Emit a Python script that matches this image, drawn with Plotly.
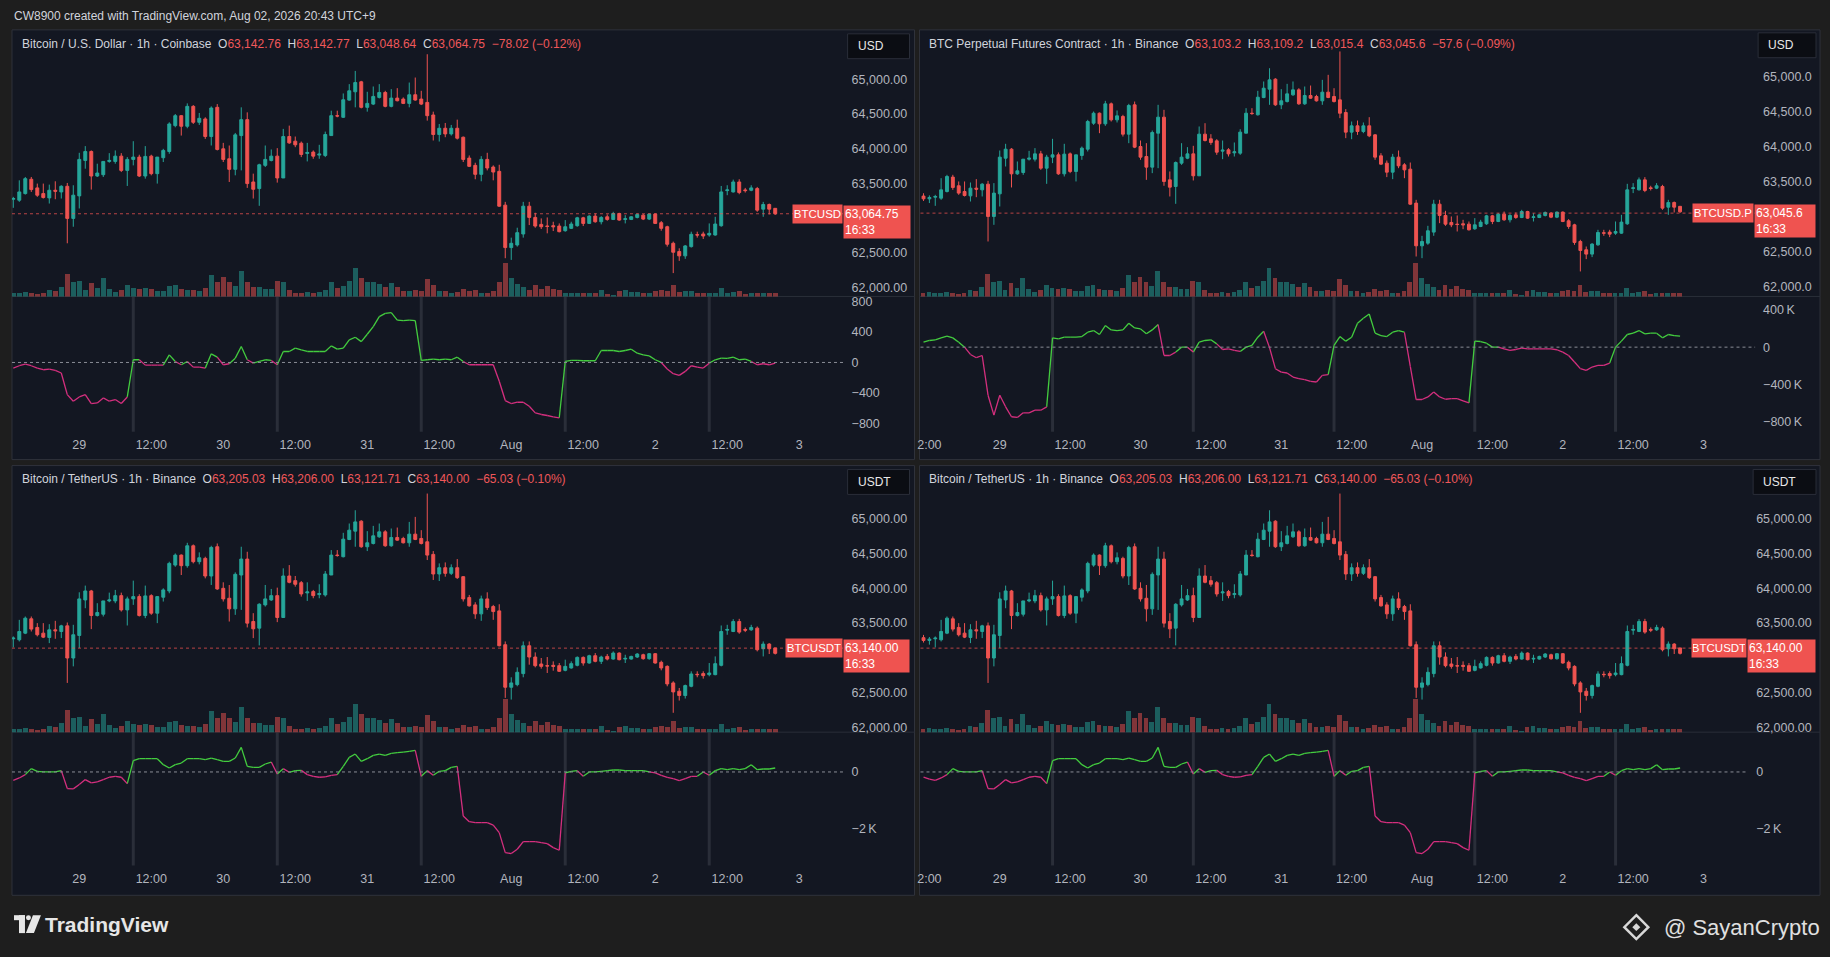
import pandas as pd
import plotly.graph_objects as go

W, H = 1830, 957

# --- Time axis: hourly candles, Jul 28 11:00 -> Aug 2 20:00 (UTC+9) ---
times = pd.date_range("2026-07-28 11:00", periods=130, freq="h")
session_starts = pd.date_range("2026-07-29 09:00", periods=5, freq="D")
time_ticks = pd.date_range("2026-07-28 12:00", periods=12, freq="12h")
time_tick_labels = ["2:00", "29", "12:00", "30", "12:00", "31", "12:00", "Aug", "12:00", "2", "12:00", "3"]

# --- Price candles (same shape on all four symbols) ---
opens = [
    63290, 63250,
    63274, 63260, 63355, 63561, 63437, 63355, 63293, 63403, 63379, 63460,
    62998, 63322, 63832, 63961, 63608, 63627, 63818, 63818, 63894, 63689,
    63847, 63880, 63608, 63894, 63642, 63871, 63961, 64333, 64476, 64324,
    64610, 64381, 64429, 64176, 64596, 63999, 63856, 63704, 64190, 64419,
    63522, 63427, 63761, 63832, 63894, 63580, 64176, 64109, 64080, 63933,
    63952, 63909, 63904, 64190, 64476, 64453, 64700, 64820, 64963, 64596,
    64643, 64739, 64810, 64610, 64729, 64715,
    64653, 64777, 64715, 64667, 64486, 64205, 64295, 64214, 64295, 64166,
    63866, 63761, 63632, 63847, 63737, 63675, 63189, 62578, 62616, 62774,
    63174, 63012, 62912, 62888, 62893, 62888, 62821, 62855, 62893, 63007,
    62926, 63031, 62950, 63021, 62983, 63069, 62983, 62983, 63012, 63045,
    62988, 63060, 62936, 62878, 62640, 62521, 62459, 62592, 62764, 62774,
    62759, 62759, 62893, 63398, 63379, 63522, 63408, 63403, 63427, 63131,
    63198, 63142.76,
]
highs = [
    63330, 63300,
    63308, 63546, 63594, 63594, 63499, 63499, 63484, 63532, 63475, 63508,
    63475, 63942, 64038, 63976, 63785, 63818, 63937, 63976, 63937, 63880,
    64109, 63914, 64038, 63914, 63880, 63999, 64381, 64500, 64486, 64653,
    64629, 64515, 64453, 64610, 64643, 64085, 64047, 64228, 64596, 64524,
    63642, 63785, 64047, 63990, 64009, 64286, 64333, 64176, 64104, 64085,
    63976, 64057, 64247, 64548, 64548, 64796, 64930, 65120, 64977, 64820,
    64896, 64930, 64834, 64858, 64872, 64739,
    64953, 65025, 64834, 65360, 64534, 64357, 64371, 64343, 64419, 64176,
    63904, 63799, 63894, 63942, 63761, 63770, 63236, 62721, 62864, 63236,
    63236, 63079, 62998, 63012, 62950, 62926, 62974, 62950, 63021, 63021,
    63045, 63069, 63031, 63055, 63093, 63079, 63045, 63031, 63069, 63060,
    63069, 63069, 62960, 62893, 62664, 62568, 62616, 62807, 62807, 62807,
    62926, 63021, 63465, 63475, 63556, 63561, 63437, 63475, 63451, 63236,
    63212, 63142.77,
]
lows = [
    63220, 63190,
    63150, 63236, 63341, 63379, 63308, 63284, 63212, 63274, 63284, 62640,
    62878, 63141, 63713, 63413, 63594, 63594, 63799, 63785, 63665, 63465,
    63761, 63594, 63570, 63618, 63499, 63809, 63928, 64309, 64190, 64295,
    64357, 64343, 64142, 64047, 63976, 63809, 63522, 63618, 63689, 63437,
    63284, 63179, 63737, 63818, 63513, 63580, 64071, 64023, 63880, 63818,
    63856, 63856, 63880, 64190, 64453, 64443, 64691, 64596, 64581, 64534,
    64629, 64724, 64596, 64596, 64682, 64643,
    64596, 64691, 64629, 64405, 64119, 64104, 64166, 64190, 64133, 63809,
    63737, 63561, 63532, 63689, 63546, 63165, 62425, 62401, 62592, 62721,
    62902, 62864, 62845, 62783, 62816, 62797, 62807, 62845, 62878, 62888,
    62917, 62936, 62912, 62964, 62974, 62964, 62926, 62974, 62998, 62974,
    62974, 62917, 62821, 62592, 62211, 62387, 62416, 62578, 62721, 62702,
    62735, 62750, 62878, 63332, 63370, 63346, 63370, 63389, 63093, 63021,
    63055, 63048.64,
]
closes = [
    63250, 63270,
    63284, 63379, 63570, 63413, 63332, 63298, 63403, 63389, 63460, 62998,
    63332, 63847, 63961, 63608, 63651, 63818, 63832, 63894, 63689, 63847,
    63880, 63608, 63890, 63642, 63880, 63976, 64357, 64476, 64324, 64610,
    64381, 64438, 64176, 64586, 63990, 63847, 63704, 64200, 64419, 63499,
    63417, 63770, 63847, 63894, 63580, 64176, 64085, 64057, 63918, 63947,
    63894, 63923, 64205, 64476, 64471, 64705, 64834, 64953, 64596, 64653,
    64753, 64810, 64610, 64729, 64691, 64653,
    64777, 64701, 64643, 64476, 64205, 64295, 64214, 64295, 64152, 63847,
    63747, 63632, 63847, 63723, 63665, 63174, 62578, 62640, 62793, 63174,
    63012, 62888, 62878, 62883, 62878, 62807, 62878, 62917, 63007, 62926,
    63031, 62950, 63012, 62983, 63069, 62974, 62993, 63021, 63055, 62988,
    63060, 62926, 62855, 62626, 62511, 62459, 62602, 62769, 62759, 62745,
    62783, 62917, 63379, 63408, 63522, 63370, 63398, 63437, 63117, 63198,
    63131, 63064.75,
]
volumes = [
    12, 14,
    10, 12, 14, 12, 9, 12, 20, 17, 29, 69,
    44, 47, 20, 42, 27, 57, 24, 14, 20, 35,
    27, 24, 27, 22, 17, 17, 32, 36, 24, 20,
    20, 17, 27, 65, 44, 60, 45, 32, 77, 44,
    30, 30, 24, 24, 47, 44, 20, 12, 12, 14,
    12, 14, 20, 44, 27, 32, 47, 87, 57, 44,
    44, 39, 30, 40, 30, 17,
    17, 20, 17, 52, 35, 17, 17, 12, 15, 24,
    17, 20, 12, 12, 17, 44, 102, 57, 39, 30,
    20, 34, 24, 32, 24, 20, 10, 10, 10, 10,
    10, 12, 20, 9, 6, 17, 20, 14, 14, 10,
    10, 17, 20, 17, 35, 14, 17, 17, 12, 12,
    12, 12, 27, 12, 14, 17, 7, 10, 10, 12,
    10, 10,
]

# --- Session delta indicators ---
# Coinbase BTCUSD, starts at Jul 28 13:00
usd_delta = [
    -74, -43, -22, -43, -74, -95, -86, -104, -138, -419, -506, -450, -419, -536, -528, -463, -506, -484, -536, -450,
    35, 35, -35, -35, -35, -35, 99, 13, -30, 13, -61, -61, -74, 112, 69, -30, -17, 56, 208, 35,
    -9, 13, 35, 26, -30, 143, 143, 186, 164, 143, 143, 143, 143, 216, 173, 186, 294, 329, 272, 368,
    467, 597, 640, 649, 553, 545, 553, 545, 26, 35, 43, 35, 43, 35, 69, 13, -30, -30, -30, -30,
    -30, -246, -497, -536, -519, -519, -571, -657, -679, -692, -709, -722, 13, 26, 26, 22, 22, 22, 156, 156,
    156, 143, 156, 173, 121, 99, 86, 35, 0, -86, -147, -169, -117, -43, -61, -74, -9, 35, 56, 52,
    69, 35, 43, 13, -30, -17, -30, -9,
]
# Binance perpetual, thousands, starts at Jul 28 11:00
perp_delta_k = [
    53, 71, 78, 99, 117, 99, 53, 0, -78, -113, -89, -513, -726, -513, -637, -743, -750, -701, -701, -673,
    -673, -637, 99, 89, 106, 106, 106, 113, 159, 177, 135, 230, 184, 177, 184, 255, 205, 195, 142, 184,
    241, -89, -89, -53, 0, 0, -53, 53, 71, 78, 35, -25, -18, -35, -46, 0, 18, 106, 170, -5,
    -230, -266, -276, -319, -336, -347, -365, -372, -301, -294, 18, 113, 64, 106, 255, 308, 354, 149, 124, 113,
    159, 177, 159, -205, -559, -559, -531, -478, -531, -556, -549, -549, -573, -595, 64, 60, 42, 0, 0, -18,
    -35, -25, -11, -18, -18, -18, -18, -18, -28, -53, -89, -159, -230, -248, -212, -195, -195, -170, 0, 64,
    135, 149, 177, 142, 149, 149, 99, 135, 124, 117,
]
# Binance BTCUSDT, starts at Jul 28 11:00
usdt_delta = [
    -180, -250,
    -293, -211, -94, 117, 23, 0, 0, 0, 47, -585, -597, -445, -269, -386, -351, -269, -187, -152, -187, -410,
    398, 468, 468, 468, 468, 257, 140, 257, 316, 468, 468, 468, 433, 491, 433, 374, 374, 491, 866, 199,
    164, 164, 281, 351, -70, 117, -12, 47, 59, -94, -152, -187, -176, -117, -94, 199, 515, 632, 374, 468,
    585, 632, 585, 655, 679, 702, 725, 761, -152, 47, -117, 23, 47, 164, 199, -1556, -1755, -1790, -1790, -1790,
    -1872, -2141, -2843, -2878, -2726, -2457, -2457, -2457, -2492, -2527, -2668, -2761, -35, 23, 47, -152, 0, 0, 23, 47,
    70, 70, 47, 47, 47, 47, 0, -35, -117, -187, -234, -304, -234, -152, -152, 0, -117, 47, 117, 82,
    117, 82, 117, 257, 82, 105, 105, 140,
]

# 63,000 sits under the last-price tag on every chart, so it is not listed
price_ticks = [62000, 62500, 63500, 64000, 64500, 65000]
usd_delta_ticks = [800, 400, 0, -400, -800]
usd_delta_labels = ["800", "400", "0", "\u2212400", "\u2212800"]
perp_delta_ticks = [400, 0, -400, -800]
perp_delta_labels = ["400\u2009K", "0", "\u2212400\u2009K", "\u2212800\u2009K"]
usdt_delta_ticks = [0, -2000]
usdt_delta_labels = ["0", "\u22122\u2009K"]

# --- Colours ---
BG_OUT = "#1e1e1e"
BG_PANEL = "#131722"
BORDER = "#2f323b"
UP = "#26a69a"
DOWN = "#ef5350"
VOL_UP = "rgba(38,166,154,0.5)"
VOL_DOWN = "rgba(239,83,80,0.5)"
LINE_UP = "#43cc3f"
LINE_DN = "#d42f7e"
TXT = "#b2b5be"
TXT_LT = "#d1d4dc"
FONT = "Liberation Sans Narrow, Liberation Sans, Arial, sans-serif"


def px(x):
    return x / W


def py(y):
    return 1 - y / H


def sign_segments(xs, vals):
    up_x, up_y, dn_x, dn_y = [], [], [], []
    for a in range(1, len(vals)):
        seg_x = [xs[a - 1], xs[a], None]
        seg_y = [vals[a - 1], vals[a], None]
        if vals[a] >= 0:
            up_x += seg_x
            up_y += seg_y
        else:
            dn_x += seg_x
            dn_y += seg_y
    return up_x, up_y, dn_x, dn_y


panels = [
    dict(box=(9, 28, 913, 460), plot_x=(9, 842), price_y=(28, 296), ind_y=(296, 432),
         xrange=["2026-07-28 12:47", "2026-08-03 07:24"], prange=[61875, 65711], irange=[-904, 861],
         pfmt=",.2f", iticks=usd_delta_ticks, ilabels=usd_delta_labels,
         ind_x=list(times[2:]), ind_v=usd_delta,
         name="Bitcoin / U.S. Dollar \u00b7 1h \u00b7 Coinbase",
         ohlc=["63,142.76", "63,142.77", "63,048.64", "63,064.75"], chg="\u221278.02 (\u22120.12%)",
         sym="BTCUSD", sym_x=(791, 840), last=63064.75, last_txt="63,064.75", box_x=(842, 908),
         cur="USD", cur_box=(846, 32, 908, 57)),
    dict(box=(918, 28, 1820, 460), plot_x=(919, 1755), price_y=(28, 296), ind_y=(296, 432),
         xrange=["2026-07-28 10:29", "2026-08-03 08:48"], prange=[61853, 65669], irange=[-903, 541],
         pfmt=",.1f", iticks=perp_delta_ticks, ilabels=perp_delta_labels,
         ind_x=list(times), ind_v=perp_delta_k,
         name="BTC Perpetual Futures Contract \u00b7 1h \u00b7 Binance",
         ohlc=["63,103.2", "63,109.2", "63,015.4", "63,045.6"], chg="\u221257.6 (\u22120.09%)",
         sym="BTCUSD.P", sym_x=(1693, 1753), last=63045.6, last_txt="63,045.6", box_x=(1755, 1815),
         cur="USD", cur_box=(1758, 31, 1816, 56)),
    dict(box=(9, 466, 913, 898), plot_x=(9, 842), price_y=(466, 734), ind_y=(734, 868),
         xrange=["2026-07-28 12:47", "2026-08-03 07:24"], prange=[61933, 65762], irange=[-3298, 1404],
         pfmt=",.2f", iticks=usdt_delta_ticks, ilabels=usdt_delta_labels,
         ind_x=list(times[2:]), ind_v=usdt_delta[2:],
         name="Bitcoin / TetherUS \u00b7 1h \u00b7 Binance",
         ohlc=["63,205.03", "63,206.00", "63,121.71", "63,140.00"], chg="\u221265.03 (\u22120.10%)",
         sym="BTCUSDT", sym_x=(784, 840), last=63140.0, last_txt="63,140.00", box_x=(842, 907),
         cur="USDT", cur_box=(846, 470, 908, 495)),
    dict(box=(918, 466, 1820, 898), plot_x=(919, 1748), price_y=(466, 734), ind_y=(734, 868),
         xrange=["2026-07-28 10:29", "2026-08-03 07:36"], prange=[61933, 65762], irange=[-3298, 1404],
         pfmt=",.2f", iticks=usdt_delta_ticks, ilabels=usdt_delta_labels,
         ind_x=list(times), ind_v=usdt_delta,
         name="Bitcoin / TetherUS \u00b7 1h \u00b7 Binance",
         ohlc=["63,205.03", "63,206.00", "63,121.71", "63,140.00"], chg="\u221265.03 (\u22120.10%)",
         sym="BTCUSDT", sym_x=(1692, 1746), last=63140.0, last_txt="63,140.00", box_x=(1748, 1815),
         cur="USDT", cur_box=(1753, 470, 1816, 495)),
]

fig = go.Figure()
axes = {}
shapes = []
annotations = []
vol_colors = [VOL_UP if c >= o else VOL_DOWN for o, c in zip(opens, closes)]


def ref(prefix, i):
    return prefix if i == 1 else f"{prefix}{i}"


def key(prefix, i):
    return f"{prefix}axis" if i == 1 else f"{prefix}axis{i}"


for n, p in enumerate(panels, start=1):
    xr = ref("x", n)
    yp, yv, yi = ref("y", 3 * n - 2), ref("y", 3 * n - 1), ref("y", 3 * n)
    bx0, by0, bx1, by1 = p["box"]

    # panel background and border
    shapes.append(dict(type="rect", xref="paper", yref="paper", x0=px(bx0), x1=px(bx1),
                       y0=py(by1), y1=py(by0), fillcolor=BG_PANEL,
                       line=dict(color=BORDER, width=1), layer="below"))
    shapes.append(dict(type="line", xref="paper", yref="paper", x0=px(bx0), x1=px(bx1),
                       y0=py(p["price_y"][1]), y1=py(p["price_y"][1]),
                       line=dict(color="#2a2e39", width=1), layer="below"))

    tick_font = dict(color=TXT, size=12.5, family=FONT)
    axes[key("x", n)] = dict(
        domain=[px(p["plot_x"][0]), px(p["plot_x"][1])], range=p["xrange"], type="date",
        anchor=yi, tickvals=list(time_ticks), ticktext=time_tick_labels,
        showgrid=False, zeroline=False, showline=False, ticks="", tickfont=tick_font,
        ticklabelstandoff=4, rangeslider=dict(visible=False), fixedrange=True,
    )
    axes[key("y", 3 * n - 2)] = dict(
        domain=[py(p["price_y"][1]), py(p["price_y"][0])], range=p["prange"], anchor=xr,
        side="right", tickvals=price_ticks, tickformat=p["pfmt"], showgrid=False,
        zeroline=False, showline=False, ticks="", tickfont=tick_font, ticklabelstandoff=7,
        fixedrange=True,
    )
    axes[key("y", 3 * n - 1)] = dict(
        domain=[py(p["price_y"][1]), py(p["price_y"][0])], range=[0, 800], anchor=xr,
        overlaying=yp, visible=False, fixedrange=True,
    )
    axes[key("y", 3 * n)] = dict(
        domain=[py(p["ind_y"][1]), py(p["ind_y"][0])], range=p["irange"], anchor=xr,
        side="right", tickvals=p["iticks"], ticktext=p["ilabels"], showgrid=False,
        zeroline=False, showline=False, ticks="", tickfont=tick_font, ticklabelstandoff=7,
        fixedrange=True,
    )

    # volume under the candles
    fig.add_trace(go.Bar(x=times, y=volumes, marker=dict(color=vol_colors, line=dict(width=0)),
                         width=0.8 * 3600 * 1000, xaxis=xr, yaxis=yv, hoverinfo="skip"))
    fig.add_trace(go.Candlestick(
        x=times, open=opens, high=highs, low=lows, close=closes, xaxis=xr, yaxis=yp,
        increasing=dict(line=dict(color=UP, width=1), fillcolor=UP),
        decreasing=dict(line=dict(color=DOWN, width=1), fillcolor=DOWN),
        whiskerwidth=0, hoverinfo="skip",
    ))

    # session separators in the indicator pane
    for s in session_starts:
        shapes.append(dict(type="line", xref=xr, yref=f"{yi} domain", x0=s, x1=s, y0=0, y1=1,
                           line=dict(color="#2a2e39", width=3), layer="below"))
    shapes.append(dict(type="line", xref=f"{xr} domain", yref=yi, x0=0, x1=1, y0=0, y1=0,
                       line=dict(color="#8a8d96", width=1, dash="dot")))
    shapes.append(dict(type="line", xref=f"{xr} domain", yref=yp, x0=0, x1=1,
                       y0=p["last"], y1=p["last"],
                       line=dict(color="rgba(239,83,80,0.75)", width=1, dash="dot")))

    up_x, up_y, dn_x, dn_y = sign_segments(p["ind_x"], p["ind_v"])
    fig.add_trace(go.Scatter(x=up_x, y=up_y, mode="lines", line=dict(color=LINE_UP, width=1.3),
                             xaxis=xr, yaxis=yi, hoverinfo="skip"))
    fig.add_trace(go.Scatter(x=dn_x, y=dn_y, mode="lines", line=dict(color=LINE_DN, width=1.3),
                             xaxis=xr, yaxis=yi, hoverinfo="skip"))

    # legend line
    red = "style='color:#f0585a'"
    o, h, l, c = p["ohlc"]
    legend = (f"<span style='color:{TXT_LT}'>{p['name']}</span>\u00a0\u00a0"
              f"O<span {red}>{o}</span>\u00a0\u00a0H<span {red}>{h}</span>\u00a0\u00a0"
              f"L<span {red}>{l}</span>\u00a0\u00a0C<span {red}>{c}</span>\u00a0\u00a0"
              f"<span {red}>{p['chg']}</span>")
    annotations.append(dict(xref="paper", yref="paper", x=px(bx0 + 8), y=py(by0 + 14),
                            xanchor="left", yanchor="middle", text=legend, showarrow=False,
                            font=dict(color=TXT_LT, size=12, family=FONT)))

    # currency button
    cx0, cy0, cx1, cy1 = p["cur_box"]
    shapes.append(dict(type="rect", xref="paper", yref="paper", x0=px(cx0), x1=px(cx1),
                       y0=py(cy1), y1=py(cy0), fillcolor="#0b0d13",
                       line=dict(color="#2a2e39", width=1)))
    annotations.append(dict(xref="paper", yref="paper", x=px(cx0 + 8), y=py((cy0 + cy1) / 2),
                            xanchor="left", yanchor="middle", text=p["cur"], showarrow=False,
                            font=dict(color="#e8e8e8", size=12, family=FONT)))

    # last price tags
    sx0, sx1 = p["sym_x"]
    annotations.append(dict(xref="paper", yref=yp, x=px((sx0 + sx1) / 2), y=p["last"],
                            xanchor="center", yanchor="middle",
                            text=p["sym"], showarrow=False, bgcolor=DOWN, width=sx1 - sx0 - 2,
                            height=16, font=dict(color="white", size=11.5, family=FONT)))
    lx0, lx1 = p["box_x"]
    annotations.append(dict(xref="paper", yref=yp, x=px((lx0 + lx1) / 2), y=p["last"], yshift=-8,
                            xanchor="center", yanchor="middle",
                            text=f"{p['last_txt']}<br>16:33", showarrow=False, bgcolor=DOWN,
                            width=lx1 - lx0 - 2, height=30, align="left",
                            font=dict(color="white", size=12, family=FONT)))

# header and footer
annotations.append(dict(xref="paper", yref="paper", x=px(9), y=py(14), xanchor="left",
                        yanchor="middle", showarrow=False,
                        text="CW8900 created with TradingView.com, Aug 02, 2026 20:43 UTC+9",
                        font=dict(color=TXT_LT, size=12, family=FONT)))
annotations.append(dict(xref="paper", yref="paper", x=px(40), y=py(927), xanchor="left",
                        yanchor="middle", showarrow=False, text="<b>TradingView</b>",
                        font=dict(color="#e6e6e6", size=21, family="Liberation Sans, Arial")))
annotations.append(dict(xref="paper", yref="paper", x=px(1822), y=py(930), xanchor="right",
                        yanchor="middle", showarrow=False, text="@ SayanCrypto",
                        font=dict(color="#e0e0e0", size=22, family="Liberation Sans, Arial")))

# TradingView logo
white = "#e6e6e6"
shapes.append(dict(type="rect", xref="paper", yref="paper", x0=px(11), x1=px(22), y0=py(923),
                   y1=py(918), fillcolor=white, line=dict(width=0)))
shapes.append(dict(type="rect", xref="paper", yref="paper", x0=px(16), x1=px(22), y0=py(936),
                   y1=py(918), fillcolor=white, line=dict(width=0)))
shapes.append(dict(type="circle", xref="paper", yref="paper", x0=px(23), x1=px(28), y0=py(923),
                   y1=py(918), fillcolor=white, line=dict(width=0)))
shapes.append(dict(type="path", xref="paper", yref="paper",
                   path=f"M {px(30)},{py(918)} L {px(38)},{py(918)} L {px(31)},{py(936)} "
                        f"L {px(23)},{py(936)} Z",
                   fillcolor=white, line=dict(width=0)))

# Binance style diamond mark
cxm, cym, r = 1636, 930, 12
shapes.append(dict(type="path", xref="paper", yref="paper",
                   path=f"M {px(cxm)},{py(cym - r)} L {px(cxm + r)},{py(cym)} "
                        f"L {px(cxm)},{py(cym + r)} L {px(cxm - r)},{py(cym)} Z",
                   fillcolor="rgba(0,0,0,0)", line=dict(color="#d8d8d8", width=2.5)))
shapes.append(dict(type="path", xref="paper", yref="paper",
                   path=f"M {px(cxm)},{py(cym - 4)} L {px(cxm + 4)},{py(cym)} "
                        f"L {px(cxm)},{py(cym + 4)} L {px(cxm - 4)},{py(cym)} Z",
                   fillcolor="#d8d8d8", line=dict(width=0)))

fig.update_layout(
    width=W, height=H, margin=dict(l=0, r=0, t=0, b=0),
    paper_bgcolor=BG_OUT, plot_bgcolor="rgba(0,0,0,0)",
    showlegend=False, hovermode=False, bargap=0,
    font=dict(family=FONT, color=TXT),
    shapes=shapes, annotations=annotations,
    **axes,
)

# the page's default body margin would push the 1830x957 figure out of the window
fig.write_html("out.html", config={"displayModeBar": False},
               post_script="document.body.style.margin='0';document.body.style.overflow='hidden';")
